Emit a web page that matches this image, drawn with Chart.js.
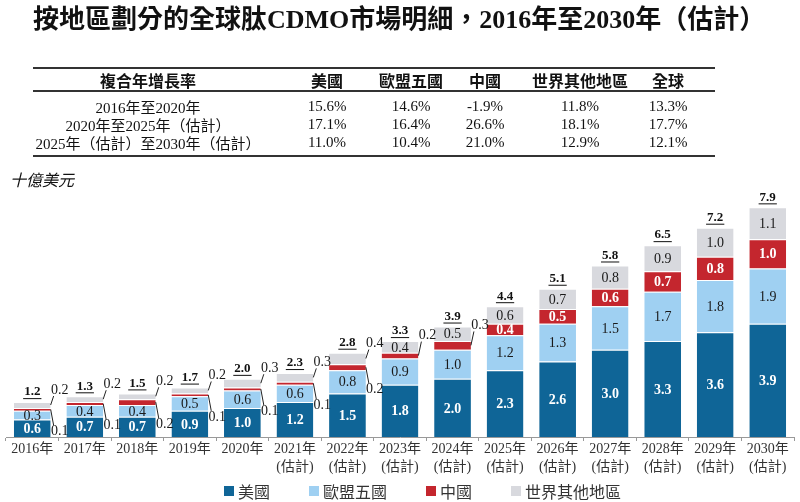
<!DOCTYPE html>
<html>
<head>
<meta charset="utf-8">
<script src="https://cdn.jsdelivr.net/npm/chart.js@4.4.0/dist/chart.umd.min.js"></script>
<style>
  body { margin: 0; background: #fff; }
  #page { position: relative; width: 800px; height: 502px; overflow: hidden;
          font-family: "Liberation Serif", "Noto Sans CJK TC", serif; color: #111; }
  #chartBox { position: absolute; left: 0; top: 0; width: 800px; height: 502px; }
  #title { position: absolute; left: 33px; top: 4px; font-size: 26px; font-weight: bold;
           white-space: nowrap; line-height: 32px; }
  .rule { position: absolute; left: 33px; width: 682px; background: #333; }
  .cell { position: absolute; transform: translate(-50%, -50%); white-space: nowrap; font-size: 15px; }
  .head { font-family: "Noto Sans CJK TC", sans-serif; font-weight: bold; font-size: 16px; }
  #unit { position: absolute; left: 10px; top: 167px; font-size: 16px; font-style: italic;
          font-family: "Noto Sans CJK TC", sans-serif; }
  #legend { position: absolute; left: 224px; top: 479px; display: flex; gap: 39px;
            font-family: "Noto Sans CJK TC", sans-serif; font-size: 16px; color: #333; }
  #legend span.item { display: flex; align-items: center; gap: 4px; }
  #legend span.box { width: 10px; height: 10px; display: inline-block; }
</style>
</head>
<body>
<div id="page">
  <div id="chartBox"><canvas id="chart" width="800" height="502"></canvas></div>
  <div id="title">按地區劃分的全球肽CDMO市場明細，2016年至2030年（估計）</div>
  <div id="table"></div>
  <div id="unit">十億美元</div>
  <div id="legend"></div>
</div>
<script>
// 數據
const categories = ['2016年', '2017年', '2018年', '2019年', '2020年',
  ['2021年', '(估計)'], ['2022年', '(估計)'], ['2023年', '(估計)'], ['2024年', '(估計)'],
  ['2025年', '(估計)'], ['2026年', '(估計)'], ['2027年', '(估計)'], ['2028年', '(估計)'],
  ['2029年', '(估計)'], ['2030年', '(估計)']];

const seriesNames = ['美國', '歐盟五國', '中國', '世界其他地區'];
const usValues    = [0.6, 0.7, 0.7, 0.9, 1.0, 1.2, 1.5, 1.8, 2.0, 2.3, 2.6, 3.0, 3.3, 3.6, 3.9];
const eu5Values   = [0.3, 0.4, 0.4, 0.5, 0.6, 0.6, 0.8, 0.9, 1.0, 1.2, 1.3, 1.5, 1.7, 1.8, 1.9];
const chinaValues = [0.1, 0.1, 0.2, 0.1, 0.1, 0.1, 0.2, 0.2, 0.3, 0.4, 0.5, 0.6, 0.7, 0.8, 1.0];
const restValues  = [0.2, 0.2, 0.2, 0.2, 0.3, 0.3, 0.4, 0.4, 0.5, 0.6, 0.7, 0.8, 0.9, 1.0, 1.1];
const totals      = [1.2, 1.3, 1.5, 1.7, 2.0, 2.3, 2.8, 3.3, 3.9, 4.4, 5.1, 5.8, 6.5, 7.2, 7.9];

// 複合年增長率
const cagrTitle   = '複合年增長率';
const cagrRegions = ['美國', '歐盟五國', '中國', '世界其他地區', '全球'];
const cagrPeriods = ['2016年至2020年', '2020年至2025年（估計）', '2025年（估計）至2030年（估計）'];
const cagr2016to2020 = [15.6, 14.6, -1.9, 11.8, 13.3];
const cagr2020to2025 = [17.1, 16.4, 26.6, 18.1, 17.7];
const cagr2025to2030 = [11.0, 10.4, 21.0, 12.9, 12.1];

// 樣式
const colors = ['#0f6597', '#9fd0f2', '#c4262e', '#d8d9de'];
const insideText = ['#ffffff', '#1a1a1a', '#ffffff', '#1a1a1a'];
const insideBold = [true, false, true, false];
const numFont = '"Liberation Serif", "Noto Sans CJK TC", serif';

// 小段數值放在柱外（灰色向上，紅色向下或向上）
function calloutSide(d, i) {
    if (d === 3 && i <= 6) return 'up';
    if (d === 2 && i <= 6) return 'down';
    if (d === 2 && i <= 8) return 'up';
    return null;
}

// 表格
function buildTable() {
    const box = document.getElementById('table');
    const colX = [148, 327, 411, 485, 580, 668];
    const rowY = [105.5, 123.5, 141.5];
    const rows = [cagr2016to2020, cagr2020to2025, cagr2025to2030];
    const add = (cls, text, x, y) => {
        const el = document.createElement('div');
        el.className = cls;
        el.textContent = text;
        el.style.left = x + 'px';
        el.style.top = y + 'px';
        box.appendChild(el);
    };
    const rule = (y, h) => {
        const el = document.createElement('div');
        el.className = 'rule';
        el.style.top = y + 'px';
        el.style.height = h + 'px';
        box.appendChild(el);
    };
    rule(67, 2);
    rule(90, 1.5);
    rule(155, 2);
    add('cell head', cagrTitle, colX[0], 79.5);
    cagrRegions.forEach((r, k) => add('cell head', r, colX[k + 1], 79.5));
    cagrPeriods.forEach((p, j) => {
        add('cell', p, colX[0], rowY[j]);
        rows[j].forEach((v, k) => add('cell', v.toFixed(1) + '%', colX[k + 1], rowY[j]));
    });
}

function buildLegend() {
    const box = document.getElementById('legend');
    seriesNames.forEach((name, k) => {
        const item = document.createElement('span');
        item.className = 'item';
        item.innerHTML = '<span class="box" style="background:' + colors[k] + '"></span><span>' + name + '</span>';
        box.appendChild(item);
    });
}

const barLabels = {
    id: 'barLabels',
    afterDatasetsDraw(chart) {
        const ctx = chart.ctx;
        ctx.save();
        ctx.textAlign = 'center';
        ctx.textBaseline = 'middle';
        chart.data.datasets.forEach((ds, d) => {
            const meta = chart.getDatasetMeta(d);
            meta.data.forEach((bar, i) => {
                const text = ds.data[i].toFixed(1);
                const mid = (bar.y + bar.base) / 2;
                const right = bar.x + bar.width / 2;
                const side = calloutSide(d, i);
                if (side) {
                    const lx = right + 9;
                    const ly = side === 'down' ? mid + 22 : mid - (d === 2 ? 20 : 15);
                    ctx.strokeStyle = '#222';
                    ctx.lineWidth = 1;
                    ctx.beginPath();
                    ctx.moveTo(right, mid);
                    ctx.lineTo(lx - 6, side === 'down' ? ly - 6 : ly + 6);
                    ctx.stroke();
                    ctx.fillStyle = '#1a1a1a';
                    ctx.font = '14px ' + numFont;
                    ctx.fillText(text, lx, ly);
                } else {
                    ctx.fillStyle = insideText[d];
                    ctx.font = (insideBold[d] ? 'bold ' : '') + '14px ' + numFont;
                    ctx.fillText(text, bar.x, mid + 1);
                }
            });
        });
        // 合計
        const top = chart.getDatasetMeta(chart.data.datasets.length - 1);
        ctx.fillStyle = '#111';
        ctx.font = 'bold 13px ' + numFont;
        totals.forEach((t, i) => {
            const bar = top.data[i];
            const s = t.toFixed(1);
            const y = bar.y - 10;
            ctx.fillText(s, bar.x, y);
            const w = ctx.measureText(s).width;
            ctx.fillRect(bar.x - w / 2 - 1, y + 6, w + 2, 1);
        });
        ctx.restore();
    }
};

buildTable();
buildLegend();

new Chart(document.getElementById('chart'), {
    type: 'bar',
    data: {
        labels: categories,
        datasets: [usValues, eu5Values, chinaValues, restValues].map((vals, k) => ({
            label: seriesNames[k],
            data: vals,
            backgroundColor: colors[k],
            borderColor: '#ffffff',
            borderWidth: {top: 1},
            borderSkipped: 'start',
            barPercentage: 0.7,
            categoryPercentage: 1.0,
        }))
    },
    options: {
        responsive: false,
        animation: false,
        layout: {padding: {top: 187, bottom: 26, left: 6, right: 6}},
        plugins: {
            legend: {display: false},
            tooltip: {enabled: false},
        },
        scales: {
            x: {
                stacked: true,
                grid: {display: true, drawOnChartArea: false, drawTicks: true, tickLength: 4,
                       offset: true, color: '#999'},
                border: {display: true, color: '#999'},
                ticks: {color: '#333', padding: 0, autoSkip: false, maxRotation: 0,
                        font: {family: numFont, size: 14, lineHeight: 1.25}},
            },
            y: {
                stacked: true,
                display: false,
                min: 0,
                max: 8.6,
            }
        }
    },
    plugins: [barLabels]
});
</script>
</body>
</html>
